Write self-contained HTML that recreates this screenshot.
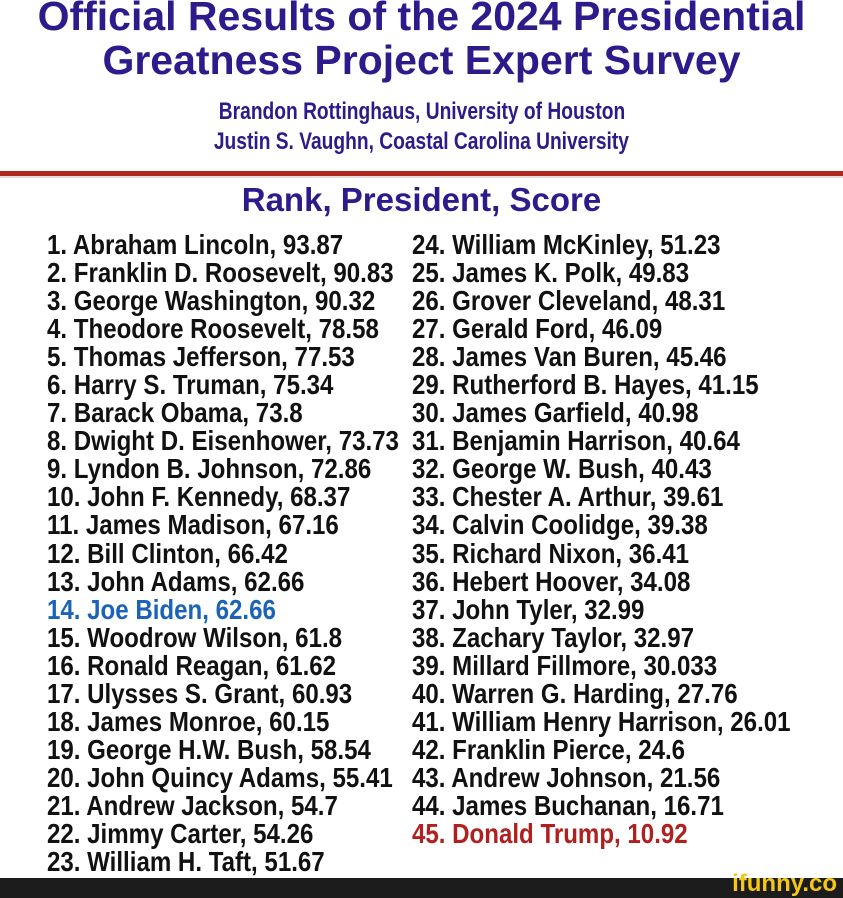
<!DOCTYPE html>
<html><head><meta charset="utf-8"><style>
body{margin:0;width:843px;height:898px;background:#fff;position:relative;overflow:hidden;font-family:"Liberation Sans",sans-serif}
.t{position:absolute;left:0;width:843px;text-align:center;font-weight:bold;color:#2e1a8a;white-space:nowrap}
.c{position:absolute;white-space:nowrap;font-weight:bold;font-size:28px;line-height:28.05px;color:#111;transform:scaleX(0.86);transform-origin:0 0}
.sub{position:absolute;left:0;width:843px;text-align:center;font-size:24px;font-weight:bold;color:#2e1a8a;white-space:nowrap}
.sub span{display:inline-block;transform:scaleX(0.8)}
.b{color:#1a63b8}.r{color:#b0201e}
</style></head><body>
<div class="t" style="top:-6px;font-size:41px;line-height:44px">Official Results of the 2024 Presidential<br>Greatness Project Expert Survey</div>
<div class="sub" style="top:97px;line-height:30px"><span>Brandon Rottinghaus, University of Houston</span><br><span>Justin S. Vaughn, Coastal Carolina University</span></div>
<div style="position:absolute;left:0;top:171px;width:843px;height:5px;background:#b3261e"></div>
<div style="position:absolute;left:0;top:176px;width:843px;height:2px;background:#ddd"></div>
<div class="t" style="top:181px;font-size:33px;line-height:38px">Rank, President, Score</div>
<div class="c" style="left:47px;top:231px">1. Abraham Lincoln, 93.87<br>2. Franklin D. Roosevelt, 90.83<br>3. George Washington, 90.32<br>4. Theodore Roosevelt, 78.58<br>5. Thomas Jefferson, 77.53<br>6. Harry S. Truman, 75.34<br>7. Barack Obama, 73.8<br>8. Dwight D. Eisenhower, 73.73<br>9. Lyndon B. Johnson, 72.86<br>10. John F. Kennedy, 68.37<br>11. James Madison, 67.16<br>12. Bill Clinton, 66.42<br>13. John Adams, 62.66<br><span class="b">14. Joe Biden, 62.66</span><br>15. Woodrow Wilson, 61.8<br>16. Ronald Reagan, 61.62<br>17. Ulysses S. Grant, 60.93<br>18. James Monroe, 60.15<br>19. George H.W. Bush, 58.54<br>20. John Quincy Adams, 55.41<br>21. Andrew Jackson, 54.7<br>22. Jimmy Carter, 54.26<br>23. William H. Taft, 51.67</div>
<div class="c" style="left:412px;top:231px">24. William McKinley, 51.23<br>25. James K. Polk, 49.83<br>26. Grover Cleveland, 48.31<br>27. Gerald Ford, 46.09<br>28. James Van Buren, 45.46<br>29. Rutherford B. Hayes, 41.15<br>30. James Garfield, 40.98<br>31. Benjamin Harrison, 40.64<br>32. George W. Bush, 40.43<br>33. Chester A. Arthur, 39.61<br>34. Calvin Coolidge, 39.38<br>35. Richard Nixon, 36.41<br>36. Hebert Hoover, 34.08<br>37. John Tyler, 32.99<br>38. Zachary Taylor, 32.97<br>39. Millard Fillmore, 30.033<br>40. Warren G. Harding, 27.76<br>41. William Henry Harrison, 26.01<br>42. Franklin Pierce, 24.6<br>43. Andrew Johnson, 21.56<br>44. James Buchanan, 16.71<br><span class="r">45. Donald Trump, 10.92</span></div>
<div style="position:absolute;left:0;top:878px;width:843px;height:20px;background:#1c1c1c"></div>
<div style="position:absolute;right:6px;top:870px;font-size:24px;font-weight:bold;color:#f5c518">ifunny.co</div>
</body></html>
